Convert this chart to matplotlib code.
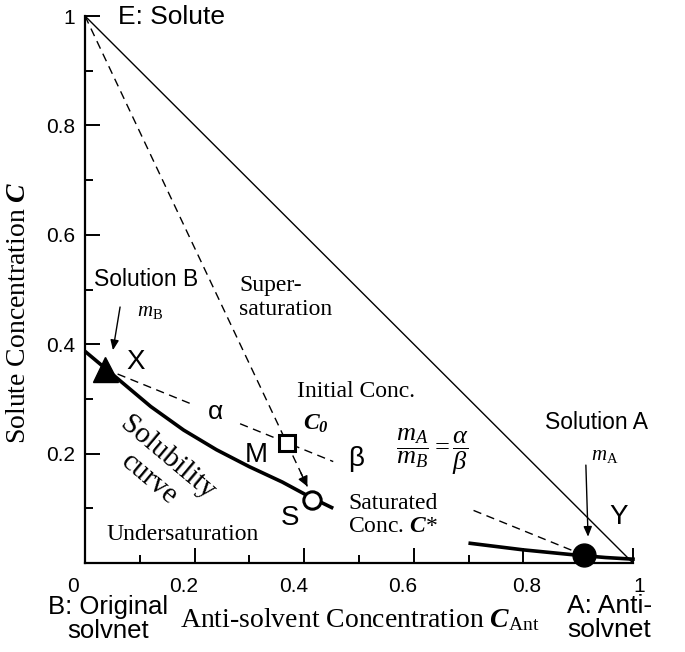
import matplotlib
matplotlib.use("Agg")
import matplotlib.pyplot as plt
import matplotlib.transforms as mtrans

plt.rcParams['mathtext.fontset'] = 'custom'
plt.rcParams['mathtext.rm'] = 'Liberation Serif'
plt.rcParams['mathtext.it'] = 'Liberation Serif:italic'
plt.rcParams['mathtext.bf'] = 'Liberation Serif:bold:italic'

SANS = 'Liberation Sans'
SERIF = 'Liberation Serif'

# ---- data ----
x_ticks = [0, 0.2, 0.4, 0.6, 0.8, 1.0]
x_ticklabels = ['0', '0.2', '0.4', '0.6', '0.8', '1']
y_ticks = [0.2, 0.4, 0.6, 0.8, 1.0]
y_ticklabels = ['0.2', '0.4', '0.6', '0.8', '1']

solubility_x = [0.0, 0.05, 0.12, 0.18, 0.24, 0.30, 0.36, 0.41, 0.453]
solubility_y = [0.387, 0.345, 0.286, 0.243, 0.207, 0.176, 0.148, 0.121, 0.100]

antisolvent_curve_x = [0.703, 0.80, 0.891, 0.95, 1.0]
antisolvent_curve_y = [0.036, 0.024, 0.015, 0.010, 0.007]

point_E = (0.0, 1.0)
point_A = (1.0, 0.0)
point_X = (0.036, 0.355)   # solution B
point_M = (0.368, 0.220)   # initial conc.
point_S = (0.414, 0.115)   # saturated conc.
point_Y = (0.911, 0.014)   # solution A

fig = plt.figure(figsize=(6.85, 6.52), dpi=100)
ax = fig.add_axes([85/685, 1-563/652, 548/685, 547/652])
ax.set_xlim(0, 1)
ax.set_ylim(0, 1)
for s in ['top', 'right']:
    ax.spines[s].set_visible(False)
for s in ['left', 'bottom']:
    ax.spines[s].set_linewidth(1.6)

ax.set_xticks(x_ticks)
ax.set_xticklabels(x_ticklabels)
ax.set_yticks(y_ticks)
ax.set_yticklabels(y_ticklabels)
ax.set_xticks([0.1, 0.3, 0.5, 0.7, 0.9], minor=True)
ax.set_yticks([0.1, 0.3, 0.5, 0.7, 0.9], minor=True)
ax.tick_params(which='major', direction='in', length=11, width=1.4,
               labelsize=15, pad=7)
ax.tick_params(axis='x', which='major', pad=10)
ax.tick_params(which='minor', direction='in', length=6, width=1.4)
for lab in ax.get_xticklabels() + ax.get_yticklabels():
    lab.set_fontfamily(SANS)

x_label_dx = [-12, -11, -11, -11, 3, 6]
for lab, dx in zip(ax.get_xticklabels(), x_label_dx):
    lab.set_transform(lab.get_transform() + mtrans.Affine2D().translate(dx, 0))

# diagonal E-A
ax.plot([point_E[0], point_A[0]], [point_E[1], point_A[1]], color='black', lw=1.0)

# dashed line X - M - (beta) with gap at alpha
dash = (0, (6, 4))
slope = (point_M[1] - point_X[1]) / (point_M[0] - point_X[0])
def lin(x):
    return point_X[1] + slope * (x - point_X[0])
ax.plot([point_X[0], 0.193], [point_X[1], lin(0.193)], color='black', lw=1.0, ls=dash)
ax.plot([0.283, 0.453], [lin(0.283), lin(0.453)], color='black', lw=1.0, ls=dash)
# dashed line from Y towards left
ax.plot([point_Y[0], 0.703], [point_Y[1], lin(0.703) + (point_Y[1] - lin(point_Y[0]))],
        color='black', lw=1.0, ls=dash)

# dashed line E -> M -> S with arrow
tip_y = 0.14
tip = (point_E[0] + (point_M[0] - point_E[0]) * (point_E[1] - tip_y) / (point_E[1] - point_M[1]), tip_y)
ax.plot([point_E[0], tip[0]], [point_E[1], tip[1]], color='black', lw=1.0, ls=dash)
back = (tip[0] - 0.012, tip[1] + 0.025)
ax.annotate('', xy=tip, xytext=back,
            arrowprops=dict(arrowstyle='-|>,head_length=0.6,head_width=0.3',
                            color='black', lw=1.0, shrinkA=0, shrinkB=0))

# curves
ax.plot(solubility_x, solubility_y, color='black', lw=2.6, solid_capstyle='butt', clip_on=False)
ax.plot(antisolvent_curve_x, antisolvent_curve_y, color='black', lw=2.6, clip_on=False)

# markers
ax.plot(*point_X, marker='^', ms=18, color='black', clip_on=False, zorder=5)
ax.plot(*point_M, marker='s', ms=12, mfc='white', mec='black', mew=2.2, zorder=5)
ax.plot(*point_S, marker='o', ms=12.5, mfc='white', mec='black', mew=2.2, zorder=5)
ax.plot(*point_Y, marker='o', ms=16.5, color='black', clip_on=False, zorder=5)

# arrows for solutions
ax.annotate('', xy=(0.051, 0.389), xytext=(0.064, 0.468),
            arrowprops=dict(arrowstyle='-|>,head_length=0.6,head_width=0.25',
                            color='black', lw=1.0, shrinkA=0, shrinkB=0))
ax.annotate('', xy=(0.918, 0.048), xytext=(0.914, 0.179),
            arrowprops=dict(arrowstyle='-|>,head_length=0.6,head_width=0.25',
                            color='black', lw=1.0, shrinkA=0, shrinkB=0))

def t(x, y, s, size, family, **kw):
    kw.setdefault('ha', 'center')
    kw.setdefault('va', 'center')
    ax.text(x, y, s, fontsize=size, family=family, clip_on=False, **kw)

t(0.060, 0.998, 'E: Solute', 19, SANS, ha='left')
t(0.111, 0.519, 'Solution B', 16.5, SANS)
t(0.119, 0.459, r'$m_{\mathrm{B}}$', 15, SERIF)
t(0.093, 0.367, 'X', 20, SANS)
t(0.281, 0.486, 'Super-\nsaturation', 17, SERIF, ha='left', linespacing=1.2)
t(0.387, 0.313, 'Initial Conc.', 17, SERIF, ha='left')
t(0.422, 0.254, r'$\mathbf{C}_{\mathbf{0}}$', 17, SERIF)
t(0.239, 0.276, 'α', 19, SANS)
t(0.312, 0.197, 'M', 20, SANS)
t(0.495, 0.190, 'β', 20, SANS)
t(0.635, 0.203, r'$\dfrac{m_A}{m_B}=\dfrac{\alpha}{\beta}$', 19, SERIF)
t(0.134, 0.173, 'Solubility\ncurve', 21, SERIF, rotation=-40, linespacing=1.1)
t(0.374, 0.082, 'S', 20, SANS)
t(0.480, 0.088, 'Saturated\nConc. $\\mathbf{C}$*', 17, SERIF, ha='left', linespacing=1.1)
t(0.040, 0.053, 'Undersaturation', 17, SERIF, ha='left')
t(0.934, 0.256, 'Solution A', 16.5, SANS)
t(0.949, 0.197, r'$m_{\mathrm{A}}$', 15, SERIF)
t(0.973, 0.084, 'Y', 20, SANS)
t(0.042, -0.102, 'B: Original\nsolvnet', 18.5, SANS, linespacing=1.0)
t(0.880, -0.101, 'A: Anti-\nsolvnet', 19, SANS, ha='left', linespacing=1.0)
t(0.173, -0.117, r'Anti-solvent Concentration $\mathbf{C}_{\mathrm{Ant}}$', 20, SERIF,
  ha='left', va='baseline')
t(-0.122, 0.457, r'Solute Concentration $\mathbf{C}$', 20, SERIF, rotation=90)

fig.savefig('out.png', dpi=100)
